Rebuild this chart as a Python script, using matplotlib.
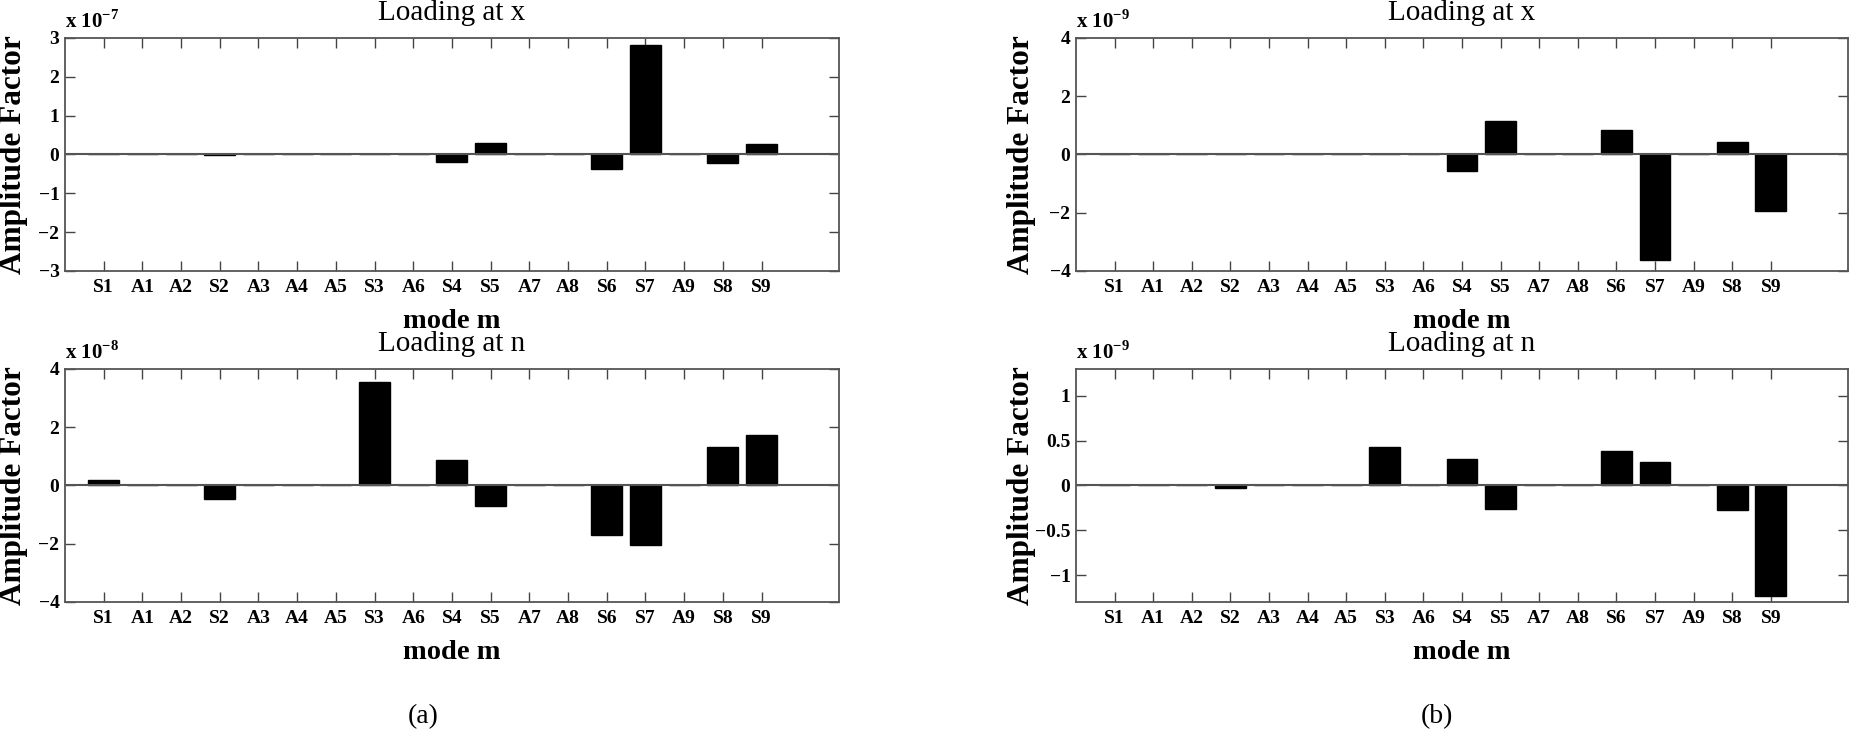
import numpy as np
import matplotlib
matplotlib.use('Agg')
import matplotlib.pyplot as plt

plt.rcParams['font.family'] = ['Liberation Serif', 'DejaVu Serif']
plt.rcParams['mathtext.fontset'] = 'custom'
plt.rcParams['mathtext.rm'] = 'Liberation Serif'
plt.rcParams['mathtext.bf'] = 'Liberation Serif:bold'

# mode labels on the x axis
modes = ['S1', 'A1', 'A2', 'S2', 'A3', 'A4', 'A5', 'S3', 'A6',
         'S4', 'S5', 'A7', 'A8', 'S6', 'S7', 'A9', 'S8', 'S9']

# amplitude factors
a_load_x = np.array([0.01, 0, 0, -0.02, 0, 0, 0, 0.01, 0,
                     -0.19, 0.30, 0, 0, -0.37, 2.82, 0, -0.23, 0.27]) * 1e-7
a_load_n = np.array([0.18, 0, 0, -0.46, 0, 0, 0, 3.56, 0,
                     0.88, -0.69, 0, 0, -1.70, -2.04, 0, 1.33, 1.73]) * 1e-8
b_load_x = np.array([0.01, 0, 0, 0, 0, 0, 0, 0.02, 0,
                     -0.57, 1.15, 0, 0, 0.84, -3.61, 0, 0.44, -1.94]) * 1e-9
b_load_n = np.array([0.008, 0, 0, -0.025, 0, 0, 0, 0.43, 0,
                     0.29, -0.26, 0, 0, 0.39, 0.26, 0, -0.27, -1.23]) * 1e-9

panels = [
    # values, exponent, ylim, yticks, title, axes rect
    (a_load_x, -7, (-3, 3), [-3, -2, -1, 0, 1, 2, 3], 'Loading at x', [0.0351, 0.6313, 0.4184, 0.317]),
    (a_load_n, -8, (-4, 4), [-4, -2, 0, 2, 4], 'Loading at n', [0.0351, 0.1810, 0.4184, 0.317]),
    (b_load_x, -9, (-4, 4), [-4, -2, 0, 2, 4], 'Loading at x', [0.5816, 0.6313, 0.4173, 0.317]),
    (b_load_n, -9, (-1.3, 1.3), [-1, -0.5, 0, 0.5, 1], 'Loading at n', [0.5816, 0.1810, 0.4173, 0.317]),
]

fig = plt.figure(figsize=(18.5, 7.35), dpi=100)
x = np.arange(1, len(modes) + 1)

for i, (vals, expo, ylim, yticks, title, rect) in enumerate(panels):
    ax = fig.add_axes(rect)
    ax.bar(x, vals / 10.0**expo, width=0.8, color='black', edgecolor='black', zorder=2)
    ax.axhline(0, color='#555555', lw=1.5, zorder=3)
    ax.set_xlim(0, 20)
    ax.set_ylim(*ylim)
    ax.set_xticks(x)
    ax.set_xticklabels(modes, fontweight='bold', fontsize=14)
    ax.set_yticks(yticks)
    ax.set_yticklabels([('%g' % t).replace('-', '\u2212') for t in yticks],
                       fontweight='bold', fontsize=14)
    ax.tick_params(direction='in', length=7, width=1, color='#444444',
                   top=True, right=True, pad=6)
    ax.tick_params(axis='y', pad=4)
    for s in ax.spines.values():
        s.set_color('#555555')
        s.set_linewidth(1.3)

    ax.set_title(title, fontsize=21, pad=13)
    ax.set_xlabel('mode m', fontsize=20.5, fontweight='bold', va='baseline')
    ax.xaxis.set_label_coords(0.5, -0.2446)
    ax.set_ylabel('Amplitude Factor', fontsize=22.5, fontweight='bold', va='center')
    ax.yaxis.set_label_coords(-0.067 if i < 2 else -0.0706, 0.5)

    ax.text(0.0, 1.043, r'x 10$^{\mathbf{%d}}$' % expo, transform=ax.transAxes,
            ha='left', va='baseline', fontsize=15, fontweight='bold')

fig.text(423 / 1850, 1 - 717 / 735, '(a)', ha='center', va='center', fontsize=20)
fig.text(1437 / 1850, 1 - 717 / 735, '(b)', ha='center', va='center', fontsize=20)

fig.savefig('out.png', dpi=100)
